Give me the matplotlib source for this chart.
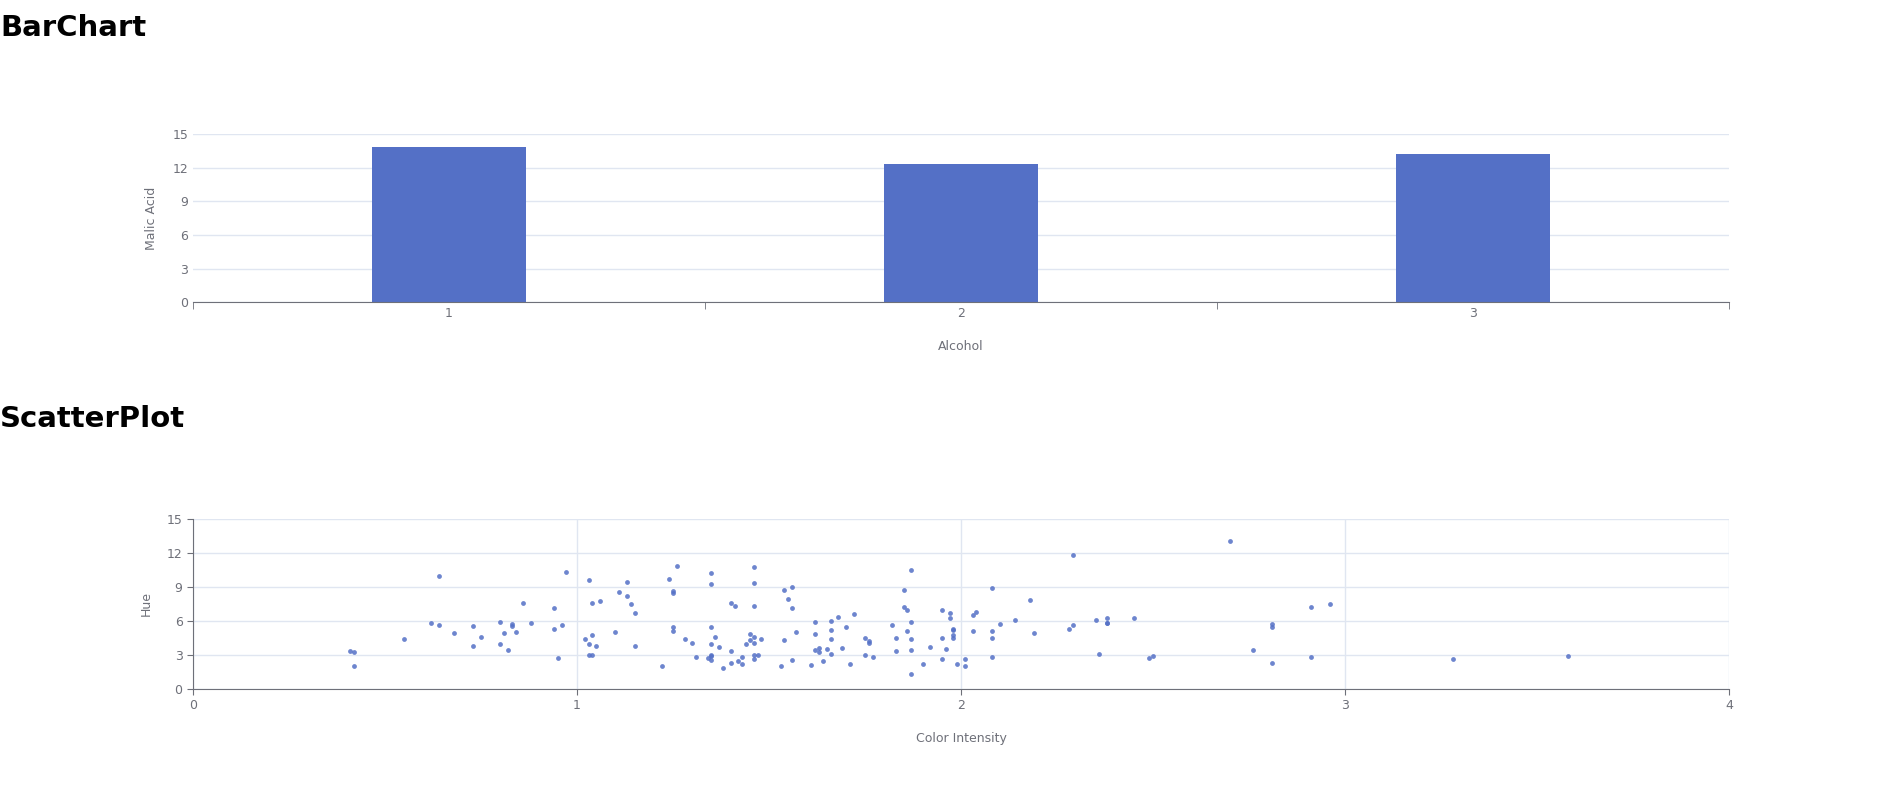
import matplotlib
matplotlib.use("Agg")
import matplotlib.pyplot as plt
import numpy as np

categories = ["1", "2", "3"]
bar_values = [13.82, 12.33, 13.18]

sx = [0.41,0.42,0.42,0.55,0.62,0.64,0.64,0.68,0.73,0.73,0.75,0.80,0.80,0.81,0.82,0.83,0.83,0.84,0.86,0.88,0.94,0.94,0.95,0.96,0.97,1.02,1.03,1.03,1.03,1.04,1.04,1.04,1.05,1.06,1.10,1.11,1.13,1.13,1.14,1.15,1.15,1.22,1.24,1.25,1.25,1.25,1.25,1.26,1.28,1.30,1.31,1.34,1.35,1.35,1.35,1.35,1.35,1.35,1.35,1.36,1.37,1.38,1.40,1.40,1.40,1.41,1.42,1.43,1.43,1.44,1.45,1.45,1.46,1.46,1.46,1.46,1.46,1.46,1.46,1.47,1.48,1.53,1.54,1.54,1.55,1.56,1.56,1.56,1.57,1.61,1.62,1.62,1.62,1.63,1.63,1.64,1.65,1.66,1.66,1.66,1.66,1.68,1.69,1.70,1.71,1.72,1.75,1.75,1.76,1.76,1.77,1.82,1.83,1.83,1.85,1.85,1.86,1.86,1.87,1.87,1.87,1.87,1.87,1.90,1.92,1.95,1.95,1.95,1.96,1.97,1.97,1.98,1.98,1.98,1.98,1.99,2.01,2.01,2.03,2.03,2.04,2.08,2.08,2.08,2.08,2.10,2.14,2.18,2.19,2.28,2.29,2.29,2.35,2.36,2.38,2.38,2.38,2.45,2.49,2.50,2.70,2.76,2.81,2.81,2.81,2.91,2.91,2.96,3.28,3.58]
sy = [3.3,3.2,2.0,4.4,5.8,5.6,9.9,4.9,5.5,3.8,4.6,5.9,3.9,4.9,3.4,5.5,5.7,5.0,7.6,5.8,7.1,5.3,2.7,5.6,10.3,4.4,9.6,3.9,3.0,4.7,3.0,7.6,3.8,7.7,5.0,8.5,9.4,8.2,7.5,6.7,3.8,2.0,9.7,8.6,8.4,5.4,5.1,10.8,4.4,4.0,2.8,2.7,2.5,2.9,3.0,3.9,5.4,9.2,10.2,4.6,3.7,1.8,3.3,2.3,7.6,7.3,2.4,2.2,2.8,3.9,4.8,4.3,3.0,10.7,9.3,7.3,4.6,4.0,2.6,3.0,4.4,2.0,4.3,8.7,7.9,9.0,7.1,2.5,5.0,2.1,5.9,4.8,3.4,3.2,3.6,2.4,3.5,6.0,5.2,4.4,3.1,6.3,3.6,5.4,2.2,6.6,4.5,3.0,4.2,4.0,2.8,5.6,4.5,3.3,7.2,8.7,5.1,6.9,10.5,5.9,4.4,3.4,1.3,2.2,3.7,6.9,4.5,2.6,3.5,6.7,6.2,5.3,4.7,4.5,5.2,2.2,2.0,2.6,5.1,6.5,6.8,8.9,5.1,4.5,2.8,5.7,6.1,7.8,4.9,5.3,5.6,11.8,6.1,3.1,5.8,6.2,5.8,6.2,2.7,2.9,13.0,3.4,2.3,5.4,5.7,7.2,2.8,7.5,2.6,2.9]

BLUE = "#5470C6"
GRID = "#E0E6F1"
AX = "#6E7079"
TXT = "#6E7079"

fig = plt.figure(figsize=(18.92, 7.98), dpi=100)
fig.text(0.0, 0.965, "BarChart", fontsize=21, fontweight="bold", va="center", ha="left")
fig.text(0.0, 0.475, "ScatterPlot", fontsize=21, fontweight="bold", va="center", ha="left")

def style(ax):
    for s in ["top", "right"]:
        ax.spines[s].set_visible(False)
    ax.spines["bottom"].set_color(AX)
    ax.tick_params(colors=TXT, labelsize=9, length=4, color=AX)
    ax.yaxis.grid(True, color=GRID, lw=1)
    ax.set_axisbelow(True)

ax1 = fig.add_axes([0.102, 0.621, 0.812, 0.211])
style(ax1)
ax1.spines["left"].set_visible(False)
x = np.arange(len(categories))
ax1.bar(x, bar_values, width=0.3, color=BLUE)
ax1.set_xlim(-0.5, len(categories) - 0.5)
ax1.set_ylim(0, 15)
ax1.set_yticks([0, 3, 6, 9, 12, 15])
ax1.set_xticks(x)
ax1.set_xticklabels(categories)
ax1.tick_params(axis="x", length=0)
ax1.set_xticks(np.arange(-0.5, len(categories)), minor=True)
ax1.tick_params(axis="x", which="minor", length=5, color=AX)
ax1.tick_params(axis="y", length=0)
ax1.set_xlabel("Alcohol", color=TXT, fontsize=9, labelpad=14)
ax1.set_ylabel("Malic Acid", color=TXT, fontsize=9, labelpad=10)

ax2 = fig.add_axes([0.102, 0.137, 0.812, 0.213])
style(ax2)
ax2.spines["left"].set_color(AX)
ax2.xaxis.grid(True, color=GRID, lw=1)
ax2.scatter(sx, sy, s=12, color=BLUE, alpha=0.85, linewidths=0)
ax2.set_xlim(0, 4)
ax2.set_ylim(0, 15)
ax2.set_xticks([0, 1, 2, 3, 4])
ax2.set_yticks([0, 3, 6, 9, 12, 15])
ax2.set_xlabel("Color Intensity", color=TXT, fontsize=9, labelpad=14)
ax2.set_ylabel("Hue", color=TXT, fontsize=9, labelpad=10)

fig.savefig("out.png", dpi=100)
